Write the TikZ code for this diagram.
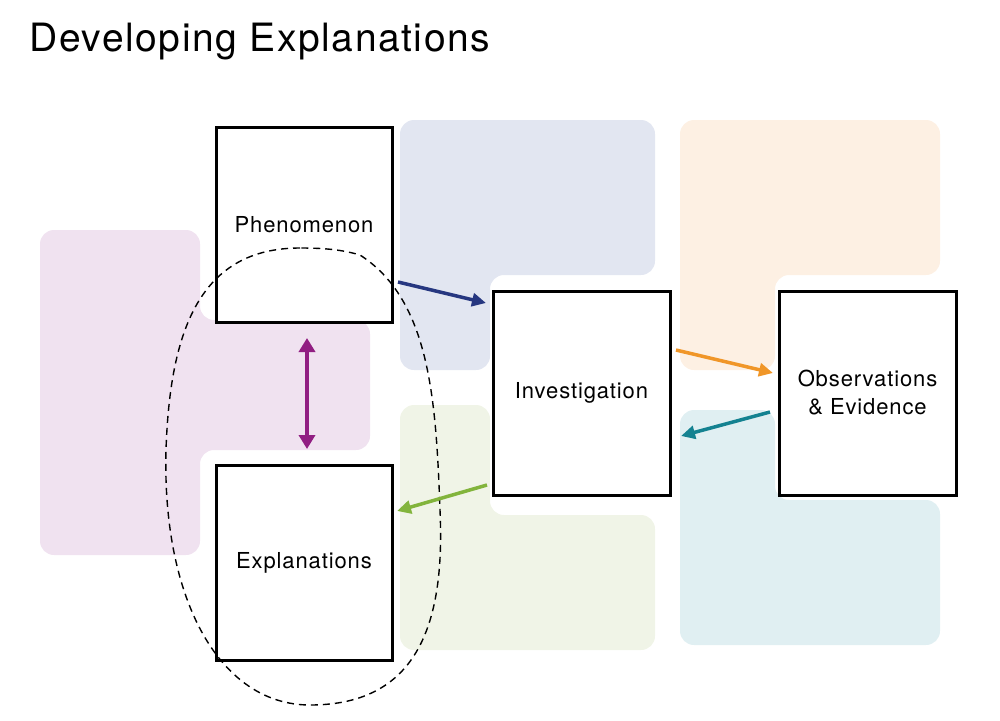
\documentclass[tikz,border=0pt]{standalone}
\usepackage{fontspec}
\setmainfont{TeX Gyre Heros}[LetterSpace=4]
\usetikzlibrary{arrows.meta}
\begin{document}
\begin{tikzpicture}[x=1pt,y=-1pt,
  box/.style={draw=black,line width=3pt,fill=white,minimum width=176pt,minimum height=195pt,font=\fontsize{22}{28}\selectfont,align=center,inner sep=0pt},
  arr/.style={line width=3.5pt,-{Triangle[length=14pt,width=13pt]}},
  bg/.style={rounded corners=14pt,draw=none}]
\useasboundingbox (0,0) rectangle (1000,720);
\definecolor{cpur}{RGB}{240,226,240}
\definecolor{cblu}{RGB}{226,230,241}
\definecolor{cora}{RGB}{253,240,227}
\definecolor{cgrn}{RGB}{240,244,231}
\definecolor{ctea}{RGB}{224,239,242}
\fill[cpur,bg] (40,230) -- (200,230) -- (200,320) -- (370,320) -- (370,450) -- (200,450) -- (200,555) -- (40,555) -- cycle;
\fill[cblu,bg] (400,120) -- (655,120) -- (655,275) -- (490,275) -- (490,370) -- (400,370) -- cycle;
\fill[cora,bg] (680,120) -- (940,120) -- (940,275) -- (775,275) -- (775,370) -- (680,370) -- cycle;
\fill[cgrn,bg] (400,405) -- (490,405) -- (490,515) -- (655,515) -- (655,650) -- (400,650) -- cycle;
\fill[ctea,bg] (680,410) -- (775,410) -- (775,500) -- (940,500) -- (940,645) -- (680,645) -- cycle;
\node[anchor=west,font=\fontsize{39}{44}\selectfont] (title) at (26,42) {Developing Explanations};
\node[box] (phen) at (304,224.5) {Phenomenon};
\node[box] (expl) at (304,562.5) {Explanations};
\node[box,minimum width=177pt,minimum height=204pt] (inv) at (581.5,393) {Investigation};
\node[box,minimum width=177pt,minimum height=204pt] (obs) at (867.5,393) {Observations\\\& Evidence};
\draw[dash pattern=on 7pt off 5pt,line width=1.4pt] (300,248) .. controls (200,248) and (170,330) .. (166,450)
  .. controls (162,600) and (220,705) .. (310,705)
  .. controls (420,705) and (445,620) .. (440,510)
  .. controls (436,400) and (430,300) .. (360,255)
  .. controls (340,249) and (320,248) .. (300,248);
\coordinate (a1) at (398,282); \coordinate (a2) at (486,303);
\draw[arr,draw={rgb,255:red,38;green,55;blue,128}] (a1) -- (a2);
\coordinate (b1) at (676,350); \coordinate (b2) at (773,373);
\draw[arr,draw={rgb,255:red,240;green,150;blue,40}] (b1) -- (b2);
\coordinate (c1) at (770,412); \coordinate (c2) at (681,436);
\draw[arr,draw={rgb,255:red,20;green,130;blue,145}] (c1) -- (c2);
\coordinate (d1) at (487,485); \coordinate (d2) at (397,511);
\draw[arr,draw={rgb,255:red,130;green,180;blue,60}] (d1) -- (d2);
\coordinate (e1) at (307,338); \coordinate (e2) at (307,449);
\draw[line width=3.5pt,{Triangle[length=14pt,width=16pt]}-{Triangle[length=14pt,width=16pt]},draw={rgb,255:red,145;green,30;blue,130}] (e1) -- (e2);
\end{tikzpicture}
\end{document}
